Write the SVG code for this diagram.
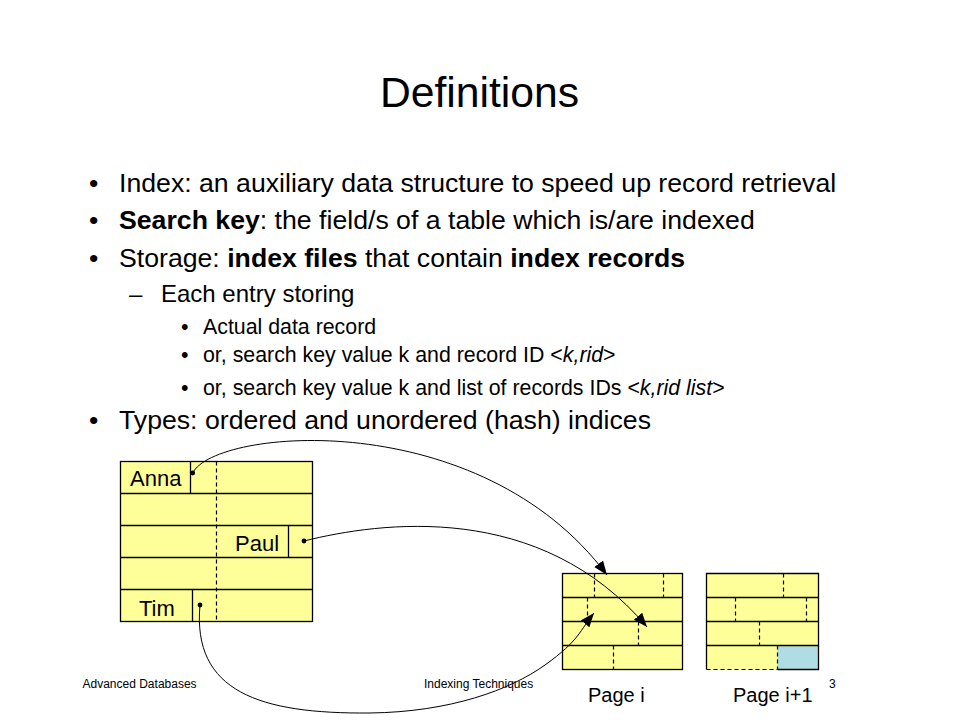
<svg xmlns="http://www.w3.org/2000/svg" width="960" height="720" viewBox="0 0 960 720">
<defs>
<style>
text{font-family:"Liberation Sans",Arial,sans-serif;fill:#000}
.title{font-size:42.67px}
.l1{font-size:26.67px}
.l2{font-size:24px}
.l3{font-size:21.33px}
.foot{font-size:12px}
.cell{font-size:22px}
.pg{font-size:20px}
.b{font-weight:bold}
.i{font-style:italic}
.box{fill:#FFFF99;stroke:none}
.ln{stroke:#000;stroke-width:1.3;fill:none}
.dash{stroke:#000;stroke-width:1.2;fill:none;stroke-dasharray:4 3}
.con{stroke:#000;stroke-width:1;fill:none;marker-end:url(#arr)}
.dot{fill:#000}
</style>
<marker id="arr" markerUnits="userSpaceOnUse" markerWidth="15" markerHeight="12" refX="14" refY="5.5" orient="auto">
<path d="M0,0 L14,5.5 L0,11 Z" fill="#000"/>
</marker>
</defs>
<rect width="960" height="720" fill="#fff"/>

<g id="title">
<text class="title" x="479.5" y="107" text-anchor="middle">Definitions</text>
</g>

<g id="bullets">
<text class="l1" x="89" y="192">•</text>
<text class="l1" x="119" y="192">Index: an auxiliary data structure to speed up record retrieval</text>
<text class="l1" x="89" y="229">•</text>
<text class="l1" x="119" y="229"><tspan class="b">Search key</tspan>: the field/s of a table which is/are indexed</text>
<text class="l1" x="89" y="266.5">•</text>
<text class="l1" x="119" y="266.5">Storage: <tspan class="b">index files</tspan> that contain <tspan class="b">index records</tspan></text>
<text class="l2" x="129" y="302">–</text>
<text class="l2" x="161" y="302">Each entry storing</text>
<text class="l3" x="181" y="333.5">•</text>
<text class="l3" x="203" y="333.5">Actual data record</text>
<text class="l3" x="181" y="361.5">•</text>
<text class="l3" x="203" y="361.5">or, search key value k and record ID &lt;<tspan class="i">k,rid</tspan>&gt;</text>
<text class="l3" x="181" y="395">•</text>
<text class="l3" x="203" y="395">or, search key value k and list of records IDs &lt;<tspan class="i">k,rid list</tspan>&gt;</text>
<text class="l1" x="89" y="429">•</text>
<text class="l1" x="119" y="429">Types: ordered and unordered (hash) indices</text>
</g>

<g id="index-file">
<rect class="box" x="120.5" y="461.5" width="192" height="160"/>
<rect class="ln" x="120.5" y="461.5" width="192" height="160"/>
<path class="ln" d="M120.5,493.5 H312.5 M120.5,525.5 H312.5 M120.5,557.5 H312.5 M120.5,589.5 H312.5"/>
<path class="dash" d="M216.5,461.5 V621.5"/>
<path class="ln" d="M190.5,461.5 V493.5 M288.5,525.5 V557.5 M192.5,589.5 V621.5"/>
<text class="cell" x="130" y="486">Anna</text>
<text class="cell" x="235" y="551">Paul</text>
<text class="cell" x="139" y="615.5">Tim</text>
<circle class="dot" cx="192.7" cy="473" r="2.4"/>
<circle class="dot" cx="304" cy="541" r="2.4"/>
<circle class="dot" cx="200" cy="605" r="2.4"/>
</g>

<g id="page-i">
<rect class="box" x="562.5" y="573.5" width="120" height="96"/>
<rect class="ln" x="562.5" y="573.5" width="120" height="96"/>
<path class="ln" d="M562.5,597.5 H682.5 M562.5,621.5 H682.5 M562.5,645.5 H682.5"/>
<path class="dash" d="M594.5,573.5 V597.5 M663.5,573.5 V597.5 M587.5,597.5 V621.5 M638.5,621.5 V645.5 M613.5,645.5 V669.5"/>
<text class="pg" x="588" y="702">Page i</text>
</g>

<g id="page-i1">
<rect class="box" x="706.5" y="573.5" width="112" height="96"/>
<rect x="777.5" y="645.5" width="41" height="24" fill="#B0DCE4"/>
<path class="ln" d="M777.5,669.5 H818.5 V573.5 H706.5 V669.5"/>
<path class="dash" d="M706.5,669.5 H777.5"/>
<path class="ln" d="M706.5,597.5 H818.5 M706.5,621.5 H818.5 M706.5,645.5 H818.5"/>
<path class="dash" d="M783.5,573.5 V597.5 M735.5,597.5 V621.5 M806.5,597.5 V621.5 M759.5,621.5 V645.5 M777.5,645.5 V669.5"/>
<text class="pg" x="733" y="702">Page i+1</text>
</g>

<g id="connectors">
<path class="con" d="M192.7,473 C215,428 480,405 607,575"/>
<path class="con" d="M304,541 C380,522 540,500 647,627"/>
<path class="con" d="M200,605 C192,692 260,714 370,713 C450,712 510,690 545,665 S580,630 594,613"/>
</g>

<g id="footer">
<text class="foot" x="82.5" y="688">Advanced Databases</text>
<text class="foot" x="424" y="688">Indexing Techniques</text>
<text class="foot" x="829" y="688">3</text>
</g>
</svg>
